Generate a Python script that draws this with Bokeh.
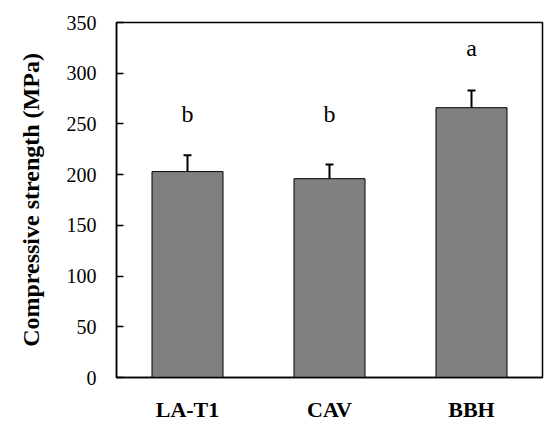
from bokeh.plotting import figure
from bokeh.models import ColumnDataSource, Whisker, TeeHead, FactorRange, Range1d, FixedTicker
from bokeh.embed import file_html
from bokeh.resources import INLINE
from bokeh.core.properties import value

# data
samples = ["LA-T1", "CAV", "BBH"]
strength = [203, 196, 266]
std_dev = [16, 14, 17]
letters = ["b", "b", "a"]
letter_y = [260, 260, 325]
y_ticks = [0, 50, 100, 150, 200, 250, 300, 350]

FONT = "Liberation Serif"

src = ColumnDataSource(data=dict(
    x=samples,
    y=strength,
    upper=[v + e for v, e in zip(strength, std_dev)],
    lab=letters,
    ly=letter_y,
))

p = figure(x_range=FactorRange(*samples, range_padding=0),
           y_range=Range1d(0, 350),
           width=550, height=431,
           min_border_left=116, min_border_right=8,
           min_border_top=22, min_border_bottom=54,
           output_backend="svg", toolbar_location=None)

# bars
p.vbar(x="x", top="y", width=0.5, source=src,
       fill_color="#808080", line_color="black", line_width=1)

# error bars, upper side only
err = Whisker(base="x", upper="upper", lower="y", source=src, dimension="height",
              line_width=2, line_color="black",
              upper_head=TeeHead(size=8, line_width=2, line_color="black"),
              lower_head=None)
p.add_layout(err)

# significance letters
p.text(x="x", y="ly", text="lab", source=src,
       text_font=value(FONT), text_font_size="24px",
       text_align="center", text_baseline="alphabetic", text_color="black")

# frame and grid
p.xgrid.visible = False
p.ygrid.visible = False
p.outline_line_color = "black"
p.outline_line_width = 1.5
p.background_fill_color = "white"
p.border_fill_color = "white"

# y axis
p.yaxis.ticker = FixedTicker(ticks=y_ticks)
p.yaxis.axis_label = "Compressive strength (MPa)"
p.yaxis.axis_label_text_font = FONT
p.yaxis.axis_label_text_font_style = "bold"
p.yaxis.axis_label_text_font_size = "24px"
p.yaxis.axis_label_text_color = "black"
p.yaxis.axis_label_standoff = 20
p.yaxis.major_label_text_font = FONT
p.yaxis.major_label_text_font_size = "20px"
p.yaxis.major_label_text_color = "black"
p.yaxis.major_label_standoff = 20
p.yaxis.major_tick_in = 7
p.yaxis.major_tick_out = 0
p.yaxis.minor_tick_line_color = None
p.yaxis.axis_line_color = "black"
p.yaxis.axis_line_width = 1.5
p.yaxis.major_tick_line_width = 1.5

# x axis
p.xaxis.major_label_text_font = FONT
p.xaxis.major_label_text_font_style = "bold"
p.xaxis.major_label_text_font_size = "22px"
p.xaxis.major_label_text_color = "black"
p.xaxis.major_label_standoff = 13
p.xaxis.major_tick_line_color = None
p.xaxis.minor_tick_line_color = None
p.xaxis.axis_line_color = "black"
p.xaxis.axis_line_width = 1.5

open("out.html", "w").write(file_html(p, INLINE))
